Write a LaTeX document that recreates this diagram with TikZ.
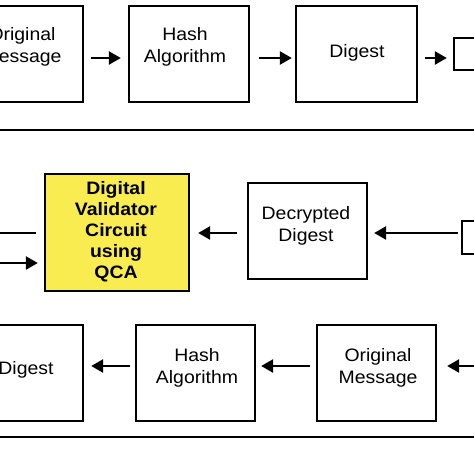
\documentclass[tikz,border=0pt]{standalone}
\usepackage{fontspec}
\setmainfont{Liberation Sans}[FakeStretch=1.08]
\usetikzlibrary{arrows.meta}
\definecolor{qcay}{RGB}{248,236,80}
\begin{document}
\begin{tikzpicture}[x=1pt,y=-1pt,
  blk/.style={draw=black, line width=2.3pt, inner sep=0pt, fill=white},
  txt/.style={align=center, font=\fontsize{18}{22}\selectfont, inner sep=0pt},
  btxt/.style={align=center, font=\fontsize{18}{21}\selectfont\bfseries, inner sep=0pt},
  arr/.style={line width=2.4pt, -{Triangle[length=12pt,width=13pt]}},
  sep/.style={line width=2.4pt}]
\useasboundingbox (0,0) rectangle (474,474);
\clip (0,0) rectangle (474,474);
\fill[white] (0,0) rectangle (474,474);
% top row
\node[blk, minimum width=120pt, minimum height=96pt] (b1) at (23,54) {};
\node[blk, minimum width=120pt, minimum height=96pt] (b2) at (189,54) {};
\node[blk, minimum width=121pt, minimum height=96pt] (b3) at (356.5,54) {};
\node[blk, minimum width=46pt, minimum height=32pt] (b4) at (477,54) {};
\node[txt] (t1) at (22,47) {Original\\Message};
\node[txt] (t2) at (185,47) {Hash\\Algorithm};
\node[txt] (t3) at (357,53) {Digest};
\coordinate (ya) at (0,58);
\draw[arr, shorten <=7pt, shorten >=7pt] (b1.east |- ya) -- (b2.west |- ya);
\draw[arr, shorten <=9pt, shorten >=3pt] (b2.east |- ya) -- (b3.west |- ya);
\draw[arr, shorten <=7pt, shorten >=6pt] (b3.east |- ya) -- (b4.west |- ya);
\draw[sep] (-2,130) -- (476,130);
% middle row
\node[blk, fill=qcay, minimum width=144pt, minimum height=117pt] (qca) at (117,232.5) {};
\node[btxt] (tq) at (116,232) {Digital\\Validator\\Circuit\\using\\QCA};
\node[blk, minimum width=119pt, minimum height=96pt] (dec) at (307.5,231) {};
\node[txt] (td) at (306,226) {Decrypted\\Digest};
\node[blk, minimum width=46pt, minimum height=33pt] (sm2) at (485,237.5) {};
\coordinate (ym) at (0,233);
\coordinate (lo1) at (-3,233);
\coordinate (lo2) at (-3,263);
\draw[arr, shorten <=10pt, shorten >=8pt] (dec.west |- ym) -- (qca.east |- ym);
\draw[arr, shorten <=3pt, shorten >=6pt] (sm2.west |- ym) -- (dec.east |- ym);
\draw[line width=2.4pt, shorten <=8pt] (qca.west |- ym) -- (lo1);
\draw[arr, shorten >=6pt] (lo2) -- (qca.west |- lo2);
% bottom row
\node[blk, minimum width=120pt, minimum height=96pt] (d2) at (23,373) {};
\node[blk, minimum width=119pt, minimum height=96pt] (h2) at (195.5,373) {};
\node[blk, minimum width=119pt, minimum height=96pt] (om2) at (376.5,373) {};
\node[txt] (t4) at (26,370) {Digest};
\node[txt] (t5) at (197,368) {Hash\\Algorithm};
\node[txt] (t6) at (378,368) {Original\\Message};
\coordinate (yb) at (0,366);
\coordinate (ro) at (480,366);
\draw[arr, shorten <=5pt, shorten >=7pt] (h2.west |- yb) -- (d2.east |- yb);
\draw[arr, shorten <=6pt, shorten >=5pt] (om2.west |- yb) -- (h2.east |- yb);
\draw[arr, shorten >=10pt] (ro) -- (om2.east |- yb);
\draw[sep, line width=2pt] (-2,437) -- (476,437);
\end{tikzpicture}
\end{document}
